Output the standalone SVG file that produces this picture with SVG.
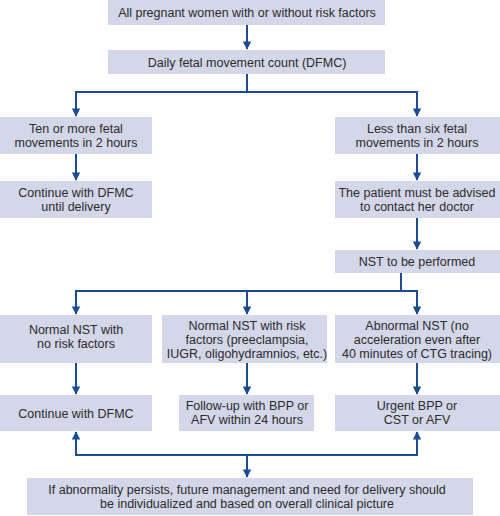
<svg xmlns="http://www.w3.org/2000/svg" width="500" height="516" viewBox="0 0 500 516">
<style>
.box{fill:#d3d7e9}
text{font-family:"Liberation Sans",Arial,sans-serif;font-size:12.5px;fill:#2b2b2b;text-anchor:middle}
.c{fill:none;stroke:#1b4b95;stroke-width:2}
</style>
<defs>
<marker id="ah" viewBox="0 0 10 10" refX="9" refY="5" markerWidth="4.2" markerHeight="4.5" orient="auto" markerUnits="strokeWidth">
<path d="M0,0 L10,5 L0,10 Z" fill="#1b4b95"/>
</marker>
</defs>
<rect width="500" height="516" fill="#ffffff"/>
<g id="connectors">
<path class="c" d="M247,25 V49" marker-end="url(#ah)"/>
<path class="c" d="M247,74 V92 H76 V116" marker-end="url(#ah)"/>
<path class="c" d="M247,92 H417 V116" marker-end="url(#ah)"/>
<path class="c" d="M76,154 V180" marker-end="url(#ah)"/>
<path class="c" d="M417,154 V180" marker-end="url(#ah)"/>
<path class="c" d="M417,218 V249" marker-end="url(#ah)"/>
<path class="c" d="M401,273 V291 H76 V314" marker-end="url(#ah)"/>
<path class="c" d="M247,291 V314" marker-end="url(#ah)"/>
<path class="c" d="M401,291 H417 V314" marker-end="url(#ah)"/>
<path class="c" d="M76,363 V394" marker-end="url(#ah)"/>
<path class="c" d="M247,363 V394" marker-end="url(#ah)"/>
<path class="c" d="M417,363 V394" marker-end="url(#ah)"/>
<path class="c" d="M247,455 H76 V432" marker-end="url(#ah)"/>
<path class="c" d="M247,455 H417 V432" marker-end="url(#ah)"/>
<path class="c" d="M247,455 V477" marker-end="url(#ah)"/>
</g>
<g id="n1"><rect class="box" x="108" y="0" width="277" height="25"/><text x="247" y="17">All pregnant women with or without risk factors</text></g>
<g id="n2"><rect class="box" x="108" y="50" width="277" height="24"/><text x="247" y="67">Daily fetal movement count (DFMC)</text></g>
<g id="n3"><rect class="box" x="0" y="117" width="152" height="37"/><text x="76" y="133">Ten or more fetal</text><text x="76" y="147">movements in 2 hours</text></g>
<g id="n4"><rect class="box" x="335" y="117" width="165" height="37"/><text x="417" y="133">Less than six fetal</text><text x="417" y="147">movements in 2 hours</text></g>
<g id="n5"><rect class="box" x="0" y="181" width="152" height="37"/><text x="76" y="197">Continue with DFMC</text><text x="76" y="211">until delivery</text></g>
<g id="n6"><rect class="box" x="335" y="181" width="165" height="37"/><text x="417" y="197">The patient must be advised</text><text x="417" y="211">to contact her doctor</text></g>
<g id="n7"><rect class="box" x="335" y="250" width="165" height="23"/><text x="417" y="266">NST to be performed</text></g>
<g id="n8"><rect class="box" x="0" y="315" width="152" height="48"/><text x="76" y="334">Normal NST with</text><text x="76" y="348">no risk factors</text></g>
<g id="n9"><rect class="box" x="162" y="315" width="165" height="48"/><text x="247" y="330">Normal NST with risk</text><text x="247" y="344">factors (preeclampsia,</text><text x="247" y="358">IUGR, oligohydramnios, etc.)</text></g>
<g id="n10"><rect class="box" x="335" y="315" width="165" height="48"/><text x="417" y="330">Abnormal NST (no</text><text x="417" y="344">acceleration even after</text><text x="417" y="358">40 minutes of CTG tracing)</text></g>
<g id="n11"><rect class="box" x="0" y="395" width="152" height="36"/><text x="76" y="418">Continue with DFMC</text></g>
<g id="n12"><rect class="box" x="179" y="395" width="135" height="36"/><text x="247" y="410">Follow-up with BPP or</text><text x="247" y="424">AFV within 24 hours</text></g>
<g id="n13"><rect class="box" x="335" y="395" width="165" height="36"/><text x="417" y="410">Urgent BPP or</text><text x="417" y="424">CST or AFV</text></g>
<g id="n14"><rect class="box" x="27" y="478" width="446" height="37"/><text x="247" y="494">If abnormality persists, future management and need for delivery should</text><text x="247" y="508">be individualized and based on overall clinical picture</text></g>
</svg>
